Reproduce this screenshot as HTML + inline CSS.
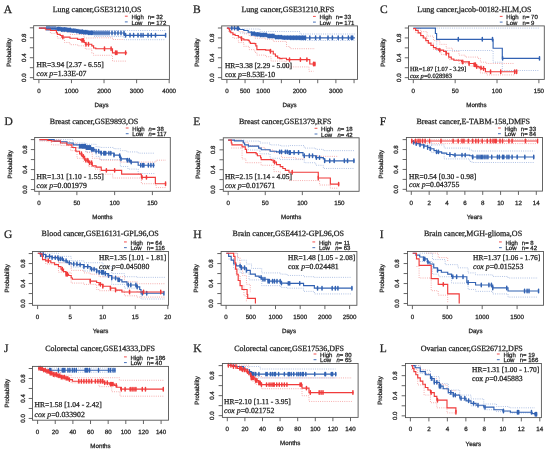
<!DOCTYPE html>
<html><head><meta charset="utf-8"><style>
html,body{margin:0;padding:0;background:#fff;width:550px;height:451px;overflow:hidden}
text{fill:#1e1e1e;stroke:#1e1e1e;stroke-width:0.25px}
svg{display:block;text-rendering:geometricPrecision;will-change:transform}
</style></head><body>
<svg width="550" height="451" viewBox="0 0 550 451">
<defs><filter id="bl" x="0" y="0" width="100%" height="100%"><feGaussianBlur stdDeviation="0.3"/></filter></defs>
<rect width="550" height="451" fill="#fff"/>
<g filter="url(#bl)">
<text x="3.8" y="13.1" font-family="Liberation Serif" font-size="11.5">A</text>
<text x="52.7" y="11.8" font-family="Liberation Serif" font-size="8">Lung cancer,GSE31210,OS</text>
<path d="M124.9 16.2H127.7" stroke="#f03a3a" stroke-width="0.9"/>
<path d="M124.9 21.9H127.7" stroke="#3262b2" stroke-width="0.9"/>
<text x="131.4" y="18.8" font-family="Liberation Sans" font-size="6">High</text>
<text x="147.7" y="18.8" font-family="Liberation Sans" font-size="6"><tspan>n</tspan>= 32</text>
<text x="131.4" y="24.5" font-family="Liberation Sans" font-size="6">Low</text>
<text x="147.7" y="24.5" font-family="Liberation Sans" font-size="6"><tspan>n</tspan>= 172</text>
<path d="M38.9 28.1H56V28.8H62V31.9H70V34.5H84V38H93.6V37.8H112.5V39.5H124" fill="none" stroke="#f29090" stroke-width="0.8" stroke-dasharray="0.9 1.3"/>
<path d="M45.45 30.5H50.4V33.3H57.4V38.2H64.5V42.5H70V44.7H77.6V45.8H85.3V49H91.8V53.4H93.6V55.3H112.5V61.1H126" fill="none" stroke="#f29090" stroke-width="0.8" stroke-dasharray="0.9 1.3"/>
<path d="M94 30.5H165.6" fill="none" stroke="#94acdb" stroke-width="0.8" stroke-dasharray="0.9 1.3"/>
<path d="M94 36.5H124.2V39.7H165.6" fill="none" stroke="#94acdb" stroke-width="0.8" stroke-dasharray="0.9 1.3"/>
<path d="M38.9 28.1H46V28.3H50V28.5H55.8V28.9H61V29.5H66.7V30H71V30.6H75.4V31.1H79V31.7H83V32.2H88V32.7H94V33H124.2V35.3H165.6" fill="none" stroke="#3262b2" stroke-width="1.15"/>
<path d="M47 26.6v3.4M49 26.6v3.4M51 26.8v3.4M53 26.8v3.4M55 26.8v3.4M57 27.2v3.4M58.5 27.2v3.4M60 27.2v3.4M61.5 27.8v3.4M63 27.8v3.4M64.5 27.8v3.4M66 27.8v3.4M67.5 28.3v3.4M69 28.3v3.4M70.5 28.3v3.4M72 28.9v3.4M73.5 28.9v3.4M75 28.9v3.4M76.5 29.4v3.4M78 29.4v3.4M79.5 30v3.4M81 30v3.4M82.5 30v3.4M84 30.5v3.4M85.5 30.5v3.4M87 30.5v3.4M88.5 31v3.4M90 31v3.4M91.5 31v3.4M93 31v3.4M95 31.3v3.4M97 31.3v3.4M99 31.3v3.4M101 31.3v3.4M103 31.3v3.4M105 31.3v3.4M107 31.3v3.4M109 31.3v3.4M112 31.3v3.4M115 31.3v3.4M118 31.3v3.4M121 31.3v3.4M124 31.3v3.4M125.6 33.6v3.4M130 33.6v3.4M133.6 33.6v3.4M138 33.6v3.4M141 33.6v3.4M143.1 33.6v3.4M148 33.6v3.4M151.3 33.6v3.4M155.5 33.6v3.4M165.6 33.6v3.4" stroke="#3262b2" stroke-width="1.5" stroke-linecap="round"/>
<path d="M38.9 28.1H45.45V29.2H50.4V30.5H56.4V32.7H57.4V34.4H60.2V35.5H61.8V37.1H70V38.2H77.6V39.3H80.9V40.4H84.2V42.5H85.3V44.2H91.8V45.8H93.6V48H95.8V48.7H112.5V52.8H127.1" fill="none" stroke="#f03a3a" stroke-width="1.15"/>
<path d="M62.9 35.4v3.4M82 38.7v3.4M83.3 38.7v3.4M86 42.5v3.4M88.5 42.5v3.4M104.5 47v3.4M111.1 47v3.4M115.5 51.1v3.4M116.9 51.1v3.4M125.6 51.1v3.4" stroke="#f03a3a" stroke-width="1.5" stroke-linecap="round"/>
<rect x="33.65" y="25.7" width="135.75" height="53.7" fill="none" stroke="#555" stroke-width="0.9"/>
<path d="M33.65 77.65H29.85M33.65 67.68H29.85M33.65 57.71H29.85M33.65 47.74H29.85M33.65 37.77H29.85M33.65 27.8H29.85M38.9 79.4V83.2M71.47 79.4V83.2M104.04 79.4V83.2M136.61 79.4V83.2M169.18 79.4V83.2" stroke="#555" stroke-width="0.9"/>
<text transform="translate(25.65 77.65) rotate(-90)" text-anchor="middle" font-family="Liberation Sans" font-size="6.1" fill="#222">0.0</text>
<text transform="translate(25.65 57.71) rotate(-90)" text-anchor="middle" font-family="Liberation Sans" font-size="6.1" fill="#222">0.4</text>
<text transform="translate(25.65 37.77) rotate(-90)" text-anchor="middle" font-family="Liberation Sans" font-size="6.1" fill="#222">0.8</text>
<text transform="translate(10.55 52.55) rotate(-90)" text-anchor="middle" font-family="Liberation Sans" font-size="6.1" fill="#222">Probability</text>
<text x="38.9" y="92.8" text-anchor="middle" font-family="Liberation Sans" font-size="6.2" fill="#222">0</text>
<text x="71.47" y="92.8" text-anchor="middle" font-family="Liberation Sans" font-size="6.2" fill="#222">1000</text>
<text x="104.04" y="92.8" text-anchor="middle" font-family="Liberation Sans" font-size="6.2" fill="#222">2000</text>
<text x="136.61" y="92.8" text-anchor="middle" font-family="Liberation Sans" font-size="6.2" fill="#222">3000</text>
<text x="169.18" y="92.8" text-anchor="middle" font-family="Liberation Sans" font-size="6.2" fill="#222">4000</text>
<text x="101.53" y="107.4" text-anchor="middle" font-family="Liberation Sans" font-size="6.2" fill="#222">Days</text>
<text x="36.6" y="66.9" text-anchor="start" font-family="Liberation Serif" font-size="7.5" fill="#222">HR=3.94 [2.37 - 6.55]</text>
<text x="36.6" y="76" text-anchor="start" font-family="Liberation Serif" font-size="7.8" fill="#222"><tspan font-style="italic">cox p</tspan>=1.33E-07</text>
<text x="193" y="13.1" font-family="Liberation Serif" font-size="11.5">B</text>
<text x="241.4" y="11.8" font-family="Liberation Serif" font-size="8">Lung cancer,GSE31210,RFS</text>
<path d="M313 16.4H315.8" stroke="#f03a3a" stroke-width="0.9"/>
<path d="M313 22.1H315.8" stroke="#3262b2" stroke-width="0.9"/>
<text x="319.5" y="19" font-family="Liberation Sans" font-size="6">High</text>
<text x="335.8" y="19" font-family="Liberation Sans" font-size="6"><tspan>n</tspan>= 33</text>
<text x="319.5" y="24.7" font-family="Liberation Sans" font-size="6">Low</text>
<text x="335.8" y="24.7" font-family="Liberation Sans" font-size="6"><tspan>n</tspan>= 171</text>
<path d="M232 28.1H232.91V28.91H238.36V31.63H243.81V33.81H249.26V36H254.72V38.18H265.62V39.27H273.25V41.45H286.5V46.5H290V48.7H315" fill="none" stroke="#f29090" stroke-width="0.8" stroke-dasharray="0.9 1.3"/>
<path d="M228 31H228.54V32.18H232.91V38.18H238.36V42.54H243.81V46.36H249.26V49.63H254.72V52.35H256.9V55.08H265.62V56.72H271.07V61.08H286V66.9H309V71.3H313.5" fill="none" stroke="#f29090" stroke-width="0.8" stroke-dasharray="0.9 1.3"/>
<path d="M240 29H260V31.5H300V34H354.9" fill="none" stroke="#94acdb" stroke-width="0.8" stroke-dasharray="0.9 1.3"/>
<path d="M240 33H260V37H300V40.5H354.9" fill="none" stroke="#94acdb" stroke-width="0.8" stroke-dasharray="0.9 1.3"/>
<path d="M226.9 28.1H235.09V28.36H239.45V29.45H243.81V30.54H248.17V32.18H251.44V33.6H254.72V34.36H260.17V34.91H267.8V36H274.34V37.09H281.98V37.63H290V37.8H354.9" fill="none" stroke="#3262b2" stroke-width="1.15"/>
<path d="M231.81 26.4v3.4M234.54 26.4v3.4M237.27 26.66v3.4M238.36 26.66v3.4M251.5 31.9v3.4M253 31.9v3.4M254.5 31.9v3.4M256 32.66v3.4M257.5 32.66v3.4M259 32.66v3.4M260.5 33.21v3.4M262 33.21v3.4M263.5 33.21v3.4M265 33.21v3.4M266.5 33.21v3.4M268 34.3v3.4M269.5 34.3v3.4M271 34.3v3.4M272.5 34.3v3.4M274 34.3v3.4M275.5 35.39v3.4M277 35.39v3.4M278.5 35.39v3.4M280 35.39v3.4M281.5 35.39v3.4M283 35.93v3.4M284.5 35.93v3.4M286 35.93v3.4M287.5 35.93v3.4M289 35.93v3.4M290.5 36.1v3.4M292 36.1v3.4M293.5 36.1v3.4M295 36.1v3.4M296.5 36.1v3.4M298 36.1v3.4M299.5 36.1v3.4M301 36.1v3.4M302.5 36.1v3.4M304 36.1v3.4M305.5 36.1v3.4M309.8 36.1v3.4M315.6 36.1v3.4M320 36.1v3.4M328 36.1v3.4M332.4 36.1v3.4M338.2 36.1v3.4M342.5 36.1v3.4M348.4 36.1v3.4M351.3 36.1v3.4M352.7 36.1v3.4" stroke="#3262b2" stroke-width="1.5" stroke-linecap="round"/>
<path d="M226.9 28.1H228.54V28.91H229.63V31.09H230.72V32.72H232.91V34.36H235.09V35.45H238.36V37.09H241.08V38.72H243.81V39.81H248.17V40.36H249.26V41.99H250.35V43.41H254.72V43.63H255.81V45.81H256.9V49.63H265.62V50.17H269.98V51.26H273.25V53.99H275.44V56.17H277.62V57.81H279.8V58.68H282V58.2H286.5V59.6H309.8V64H315.6" fill="none" stroke="#f03a3a" stroke-width="1.15"/>
<path d="M241.6 37.02v3.4M270.5 49.56v3.4M289.5 57.9v3.4M300.4 57.9v3.4M306.9 57.9v3.4M313.5 62.3v3.4M314.9 62.3v3.4" stroke="#f03a3a" stroke-width="1.5" stroke-linecap="round"/>
<rect x="221.7" y="25.9" width="135.8" height="53.5" fill="none" stroke="#555" stroke-width="0.9"/>
<path d="M221.7 77.65H217.9M221.7 67.72H217.9M221.7 57.79H217.9M221.7 47.86H217.9M221.7 37.93H217.9M221.7 28H217.9M226.9 79.4V83.2M245.06 79.4V83.2M263.23 79.4V83.2M281.39 79.4V83.2M299.56 79.4V83.2M317.73 79.4V83.2M335.89 79.4V83.2M354.06 79.4V83.2" stroke="#555" stroke-width="0.9"/>
<text transform="translate(213.7 77.65) rotate(-90)" text-anchor="middle" font-family="Liberation Sans" font-size="6.1" fill="#222">0.0</text>
<text transform="translate(213.7 57.79) rotate(-90)" text-anchor="middle" font-family="Liberation Sans" font-size="6.1" fill="#222">0.4</text>
<text transform="translate(213.7 37.93) rotate(-90)" text-anchor="middle" font-family="Liberation Sans" font-size="6.1" fill="#222">0.8</text>
<text transform="translate(198.6 52.65) rotate(-90)" text-anchor="middle" font-family="Liberation Sans" font-size="6.1" fill="#222">Probability</text>
<text x="226.9" y="92.8" text-anchor="middle" font-family="Liberation Sans" font-size="6.2" fill="#222">0</text>
<text x="245.06" y="92.8" text-anchor="middle" font-family="Liberation Sans" font-size="6.2" fill="#222">500</text>
<text x="263.23" y="92.8" text-anchor="middle" font-family="Liberation Sans" font-size="6.2" fill="#222">1000</text>
<text x="299.56" y="92.8" text-anchor="middle" font-family="Liberation Sans" font-size="6.2" fill="#222">2000</text>
<text x="335.89" y="92.8" text-anchor="middle" font-family="Liberation Sans" font-size="6.2" fill="#222">3000</text>
<text x="289.6" y="107.4" text-anchor="middle" font-family="Liberation Sans" font-size="6.2" fill="#222">Days</text>
<text x="224.9" y="67.5" text-anchor="start" font-family="Liberation Serif" font-size="7.5" fill="#222">HR=3.38 [2.29 - 5.00]</text>
<text x="224.9" y="76.9" text-anchor="start" font-family="Liberation Serif" font-size="7.8" fill="#222">cox <tspan font-style="italic">p</tspan>=8.53E-10</text>
<text x="379.9" y="13.3" font-family="Liberation Serif" font-size="11.5">C</text>
<text x="417.3" y="11.8" font-family="Liberation Serif" font-size="8">Lung cancer,jacob-00182-HLM,OS</text>
<path d="M499.8 16.4H502.6" stroke="#f03a3a" stroke-width="0.9"/>
<path d="M499.8 22.1H502.6" stroke="#3262b2" stroke-width="0.9"/>
<text x="506.3" y="19" font-family="Liberation Sans" font-size="6">High</text>
<text x="522.6" y="19" font-family="Liberation Sans" font-size="6"><tspan>n</tspan>= 70</text>
<text x="506.3" y="24.7" font-family="Liberation Sans" font-size="6">Low</text>
<text x="522.6" y="24.7" font-family="Liberation Sans" font-size="6"><tspan>n</tspan>= 9</text>
<path d="M413.3 28.5H420.73V31.64H427.09V36.09H433.46V40.55H439.82V44.36H446.18V48.18H452.55V51.36H458.91V55.18H465.27V57.09H478V58.36H480.36V62.18H486.73V63.46H514.7" fill="none" stroke="#f29090" stroke-width="0.8" stroke-dasharray="0.9 1.3"/>
<path d="M413.3 29.7H415.64V32.91H420.73V36.73H427.09V43.09H433.46V49.46H441.09V54.55H448.73V59.64H458.91V63.46H469.09V66H480.36V73H486.73V74.91H515" fill="none" stroke="#f29090" stroke-width="0.8" stroke-dasharray="0.9 1.3"/>
<path d="M436.6 28.1H538.9" fill="none" stroke="#94acdb" stroke-width="0.8" stroke-dasharray="0.9 1.3"/>
<path d="M436.6 39.3H436.7V50.5H493.1V62.2H502.3V70.5H538.9" fill="none" stroke="#94acdb" stroke-width="0.8" stroke-dasharray="0.9 1.3"/>
<path d="M413.3 28.1H435.4V33.5H436.6V39.3H493.1V48.2H502.3V58.4H539.5" fill="none" stroke="#3262b2" stroke-width="1.15"/>
<path d="M458.3 37.6v3.4M482.3 37.6v3.4M492.5 37.6v3.4M502.6 56.7v3.4M539.5 56.7v3.4" stroke="#3262b2" stroke-width="1.5" stroke-linecap="round"/>
<path d="M413.3 28.5H415.64V30.36H418.18V32.91H420.73V35.45H423.27V38H425.82V40.55H428.36V43.09H430.91V45.38H433.46V47.55H436V48.82H438.55V50.09H443.64V51.36H446.18V53.27H448.73V57.09H451.27V59H453.82V60.27H461.46V61.93H469.09V63.46H474.18V64.73H476.55V66.64H479.09V67.91H481.64V68.55H485.45V71.73H517.3" fill="none" stroke="#f03a3a" stroke-width="1.15"/>
<path d="M439.82 48.39v3.4M446.18 51.57v3.4M462.73 60.23v3.4M469.09 61.76v3.4M474.18 63.03v3.4M475.46 63.03v3.4M476.73 64.94v3.4M481 66.21v3.4M483.55 66.85v3.4M490.55 70.03v3.4M500.73 70.03v3.4M514.73 70.03v3.4M516.64 70.03v3.4" stroke="#f03a3a" stroke-width="1.5" stroke-linecap="round"/>
<rect x="408.55" y="25.9" width="135.75" height="53.5" fill="none" stroke="#555" stroke-width="0.9"/>
<path d="M408.55 77.65H404.75M408.55 67.72H404.75M408.55 57.79H404.75M408.55 47.86H404.75M408.55 37.93H404.75M408.55 28H404.75M413.3 79.4V83.2M455.17 79.4V83.2M497.03 79.4V83.2M538.89 79.4V83.2" stroke="#555" stroke-width="0.9"/>
<text transform="translate(400.55 77.65) rotate(-90)" text-anchor="middle" font-family="Liberation Sans" font-size="6.1" fill="#222">0.0</text>
<text transform="translate(400.55 57.79) rotate(-90)" text-anchor="middle" font-family="Liberation Sans" font-size="6.1" fill="#222">0.4</text>
<text transform="translate(400.55 37.93) rotate(-90)" text-anchor="middle" font-family="Liberation Sans" font-size="6.1" fill="#222">0.8</text>
<text transform="translate(385.45 52.65) rotate(-90)" text-anchor="middle" font-family="Liberation Sans" font-size="6.1" fill="#222">Probability</text>
<text x="413.3" y="92.8" text-anchor="middle" font-family="Liberation Sans" font-size="6.2" fill="#222">0</text>
<text x="455.17" y="92.8" text-anchor="middle" font-family="Liberation Sans" font-size="6.2" fill="#222">50</text>
<text x="497.03" y="92.8" text-anchor="middle" font-family="Liberation Sans" font-size="6.2" fill="#222">100</text>
<text x="538.89" y="92.8" text-anchor="middle" font-family="Liberation Sans" font-size="6.2" fill="#222">150</text>
<text x="476.42" y="107.4" text-anchor="middle" font-family="Liberation Sans" font-size="6.2" fill="#222">Months</text>
<text x="409.9" y="71.1" text-anchor="start" font-family="Liberation Serif" font-size="6.3" fill="#222">HR=1.87 [1.07 - 3.29]</text>
<text x="409.9" y="77.6" text-anchor="start" font-family="Liberation Serif" font-size="6.55" fill="#222"><tspan font-style="italic">cox p</tspan>=0.028983</text>
<text x="4.6" y="125" font-family="Liberation Serif" font-size="11.5">D</text>
<text x="49.8" y="123.8" font-family="Liberation Serif" font-size="8">Breast cancer,GSE9893,OS</text>
<path d="M125.8 128H128.6" stroke="#f03a3a" stroke-width="0.9"/>
<path d="M125.8 133.7H128.6" stroke="#3262b2" stroke-width="0.9"/>
<text x="132.3" y="130.6" font-family="Liberation Sans" font-size="6">High</text>
<text x="148.6" y="130.6" font-family="Liberation Sans" font-size="6"><tspan font-style="italic">n</tspan>= 38</text>
<text x="132.3" y="136.3" font-family="Liberation Sans" font-size="6">Low</text>
<text x="148.6" y="136.3" font-family="Liberation Sans" font-size="6"><tspan font-style="italic">n</tspan>= 117</text>
<path d="M47 139.6H60.46V141.73H70.64V143.64H77V148.09H85.91V152.55H92.27V158.27H100V160.18H120.36V162.09H156V160.18H166" fill="none" stroke="#f29090" stroke-width="0.8" stroke-dasharray="0.9 1.3"/>
<path d="M39.5 141H47.73V141.73H51.55V144.91H60.46V145.55H70.64V150.64H77V158.27H83.36V161.46H88.46V166.55H94.82V169.09H100V174.18H112.73V178H141.36V183.73H156V187.55H166" fill="none" stroke="#f29090" stroke-width="0.8" stroke-dasharray="0.9 1.3"/>
<path d="M52 139.6H73.18V143H85.91V144.27H96.09V146.82H100V147.45H114V148.73H120.36V150.64H126.73V151.91H138.18V153.18H154.7" fill="none" stroke="#94acdb" stroke-width="0.8" stroke-dasharray="0.9 1.3"/>
<path d="M60 141.5H60.46V143.64H73.18V148.09H85.91V151.91H96.09V156.36H100V159.55H120.36V166.55H128V169.09H138.18V173.55H154.7" fill="none" stroke="#94acdb" stroke-width="0.8" stroke-dasharray="0.9 1.3"/>
<path d="M39.5 139.6H54.09V141.09H60.46V141.73H66.82V143H73.18V144.91H79.55V146.18H85.91V147.45H91V149.36H94.82V151.27H101.18V152.55H100V153.18H114V155.09H119.09V155.73H120.36V158.91H126.73V160.18H130.55V162.09H138.18V165.27H154.7" fill="none" stroke="#3262b2" stroke-width="1.15"/>
<path d="M79.55 144.48v3.4M81.07 144.48v3.4M82.35 144.48v3.4M83.36 144.48v3.4M84.38 144.48v3.4M85.4 144.48v3.4M86.42 145.75v3.4M87.44 145.75v3.4M88.46 145.75v3.4M89.47 145.75v3.4M90.49 145.75v3.4M91.51 147.66v3.4M92.53 147.66v3.4M93.55 147.66v3.4M96.09 149.57v3.4M98.64 149.57v3.4M101.18 151.48v3.4M104.36 151.48v3.4M103.82 151.48v3.4M105.73 151.48v3.4M108.91 151.48v3.4M110.82 151.48v3.4M114 153.39v3.4M119.73 154.03v3.4M121 157.21v3.4M127.36 158.48v3.4M129.27 158.48v3.4M131.18 160.39v3.4M140.73 163.57v3.4M142.64 163.57v3.4M143.91 163.57v3.4M148.36 163.57v3.4M150.91 163.57v3.4M153.46 163.57v3.4" stroke="#3262b2" stroke-width="1.5" stroke-linecap="round"/>
<path d="M39.5 139.6H47.73V140.45H51.55V141.09H60.46V143H66.82V144.91H71.91V147.45H75.73V151.27H79.55V153.82H82.09V156.36H84.64V160.18H88.46V162.73H92.27V165.91H96.09V167.18H101.18V168.46H101.27V170.36H121.64V174.18H141.36V177.36H155.36V183.73H166.2" fill="none" stroke="#f03a3a" stroke-width="1.15"/>
<path d="M81.46 152.12v3.4M83.36 154.66v3.4M85.91 158.48v3.4M87.82 158.48v3.4M89.73 161.03v3.4M91.64 161.03v3.4M106.36 168.66v3.4M114.64 168.66v3.4M142 175.66v3.4M146.46 175.66v3.4M165.55 182.03v3.4" stroke="#f03a3a" stroke-width="1.5" stroke-linecap="round"/>
<rect x="34.65" y="137.5" width="135.65" height="53.8" fill="none" stroke="#555" stroke-width="0.9"/>
<path d="M34.65 189.55H30.85M34.65 179.56H30.85M34.65 169.57H30.85M34.65 159.58H30.85M34.65 149.59H30.85M34.65 139.6H30.85M39.1 191.3V195.1M76.87 191.3V195.1M114.63 191.3V195.1M152.4 191.3V195.1" stroke="#555" stroke-width="0.9"/>
<text transform="translate(26.65 189.55) rotate(-90)" text-anchor="middle" font-family="Liberation Sans" font-size="6.1" fill="#222">0.0</text>
<text transform="translate(26.65 169.57) rotate(-90)" text-anchor="middle" font-family="Liberation Sans" font-size="6.1" fill="#222">0.4</text>
<text transform="translate(26.65 149.59) rotate(-90)" text-anchor="middle" font-family="Liberation Sans" font-size="6.1" fill="#222">0.8</text>
<text transform="translate(11.55 164.4) rotate(-90)" text-anchor="middle" font-family="Liberation Sans" font-size="6.1" fill="#222">Probability</text>
<text x="39.1" y="204.7" text-anchor="middle" font-family="Liberation Sans" font-size="6.2" fill="#222">0</text>
<text x="76.87" y="204.7" text-anchor="middle" font-family="Liberation Sans" font-size="6.2" fill="#222">50</text>
<text x="114.63" y="204.7" text-anchor="middle" font-family="Liberation Sans" font-size="6.2" fill="#222">100</text>
<text x="152.4" y="204.7" text-anchor="middle" font-family="Liberation Sans" font-size="6.2" fill="#222">150</text>
<text x="102.48" y="219.3" text-anchor="middle" font-family="Liberation Sans" font-size="6.2" fill="#222">Months</text>
<text x="36.5" y="178.9" text-anchor="start" font-family="Liberation Serif" font-size="7.5" fill="#222">HR=1.31 [1.10 - 1.55]</text>
<text x="36.5" y="187.6" text-anchor="start" font-family="Liberation Serif" font-size="7.8" fill="#222"><tspan font-style="italic">cox p</tspan>=0.001979</text>
<text x="193.2" y="125" font-family="Liberation Serif" font-size="11.5">E</text>
<text x="239" y="123.8" font-family="Liberation Serif" font-size="8">Breast cancer,GSE1379,RFS</text>
<path d="M314.6 128.3H317.4" stroke="#f03a3a" stroke-width="0.9"/>
<path d="M314.6 134H317.4" stroke="#3262b2" stroke-width="0.9"/>
<text x="321.1" y="130.9" font-family="Liberation Sans" font-size="6">High</text>
<text x="337.4" y="130.9" font-family="Liberation Sans" font-size="6"><tspan font-style="italic">n</tspan>= 18</text>
<text x="321.1" y="136.6" font-family="Liberation Sans" font-size="6">Low</text>
<text x="337.4" y="136.6" font-family="Liberation Sans" font-size="6"><tspan font-style="italic">n</tspan>= 42</text>
<path d="M231.3 140.1H242.09V142.36H248.46V145.55H258.64V147.45H265V150H273.91V152.55H281.55V157.64H295.36V158.91H304.27V155.73H318.27V156.36H338.5" fill="none" stroke="#f29090" stroke-width="0.8" stroke-dasharray="0.9 1.3"/>
<path d="M231.3 148H242.09V158.91H245.91V162.73H261.18V165.27H273.91V171.64H280.27V174.18H289V180.55H319.55V185H330.36V188.18H338.5" fill="none" stroke="#f29090" stroke-width="0.8" stroke-dasharray="0.9 1.3"/>
<path d="M234.5 140.1H244.64V141.09H259.91V143H270.09V144.91H280.27V145.93H289V145.55H304.27V148.09H315.73V149.36H323.36V150.64H354" fill="none" stroke="#94acdb" stroke-width="0.8" stroke-dasharray="0.9 1.3"/>
<path d="M243 146H248.46V150H259.91V153.82H270.09V158.27H280.27V159.55H289V159.55H304.27V162.73H315.73V165.27H323.36V168.46H354" fill="none" stroke="#94acdb" stroke-width="0.8" stroke-dasharray="0.9 1.3"/>
<path d="M228.1 140.1H234.45V140.84H243.36V143H244.64V144.91H248.46V146.18H258.64V148.09H261.18V149.75H270.09V151.27H276.46V151.91H289V152.55H303V155.73H315.73V157.64H323.36V158.91H324.64V160.82H354.5" fill="none" stroke="#3262b2" stroke-width="1.15"/>
<path d="M279.64 150.21v3.4M281.55 150.21v3.4M285.36 150.21v3.4M287.27 150.21v3.4M289.18 150.85v3.4M290.27 150.85v3.4M294.09 150.85v3.4M298.55 150.85v3.4M304.27 154.03v3.4M309.36 154.03v3.4M312.55 154.03v3.4M316.36 155.94v3.4M319.55 155.94v3.4M324.64 159.12v3.4M329.73 159.12v3.4M334.18 159.12v3.4M344.36 159.12v3.4M347.55 159.12v3.4M353.91 159.12v3.4" stroke="#3262b2" stroke-width="1.5" stroke-linecap="round"/>
<path d="M228.1 140.1H231.27V143H231.91V144.91H242.09V146.82H245.27V149.36H246.55V152.55H256.09V153.82H257.36V155.73H260.55V157.64H261.18V159.55H271.36V160.18H273.27V162.09H276.46V164.64H280.27V166.55H282.82V168.46H285.36V170.36H289V172.27H318.27V178H330.36V184.11H339.3" fill="none" stroke="#f03a3a" stroke-width="1.15"/>
<path d="M274.55 160.39v3.4M292.18 170.57v3.4M318.27 176.3v3.4M338.64 182.41v3.4" stroke="#f03a3a" stroke-width="1.5" stroke-linecap="round"/>
<rect x="223.3" y="137.8" width="135.8" height="53.5" fill="none" stroke="#555" stroke-width="0.9"/>
<path d="M223.3 189.55H219.5M223.3 179.62H219.5M223.3 169.69H219.5M223.3 159.76H219.5M223.3 149.83H219.5M223.3 139.9H219.5M228.2 191.3V195.1M265.26 191.3V195.1M302.33 191.3V195.1M339.39 191.3V195.1" stroke="#555" stroke-width="0.9"/>
<text transform="translate(215.3 189.55) rotate(-90)" text-anchor="middle" font-family="Liberation Sans" font-size="6.1" fill="#222">0.0</text>
<text transform="translate(215.3 169.69) rotate(-90)" text-anchor="middle" font-family="Liberation Sans" font-size="6.1" fill="#222">0.4</text>
<text transform="translate(215.3 149.83) rotate(-90)" text-anchor="middle" font-family="Liberation Sans" font-size="6.1" fill="#222">0.8</text>
<text transform="translate(200.2 164.55) rotate(-90)" text-anchor="middle" font-family="Liberation Sans" font-size="6.1" fill="#222">Probability</text>
<text x="228.2" y="204.7" text-anchor="middle" font-family="Liberation Sans" font-size="6.2" fill="#222">0</text>
<text x="265.26" y="204.7" text-anchor="middle" font-family="Liberation Sans" font-size="6.2" fill="#222">50</text>
<text x="302.33" y="204.7" text-anchor="middle" font-family="Liberation Sans" font-size="6.2" fill="#222">100</text>
<text x="339.39" y="204.7" text-anchor="middle" font-family="Liberation Sans" font-size="6.2" fill="#222">150</text>
<text x="291.2" y="219.3" text-anchor="middle" font-family="Liberation Sans" font-size="6.2" fill="#222">Months</text>
<text x="224.9" y="178.9" text-anchor="start" font-family="Liberation Serif" font-size="7.5" fill="#222">HR=2.15 [1.14 - 4.05]</text>
<text x="224.9" y="187.6" text-anchor="start" font-family="Liberation Serif" font-size="7.8" fill="#222"><tspan font-style="italic">cox p</tspan>=0.017671</text>
<text x="379.8" y="125" font-family="Liberation Serif" font-size="11.5">F</text>
<text x="416.5" y="123.8" font-family="Liberation Serif" font-size="8">Breast cancer,E-TABM-158,DMFS</text>
<path d="M498 128H500.8" stroke="#f03a3a" stroke-width="0.9"/>
<path d="M498 133.7H500.8" stroke="#3262b2" stroke-width="0.9"/>
<text x="504.5" y="130.6" font-family="Liberation Sans" font-size="6">High</text>
<text x="520.8" y="130.6" font-family="Liberation Sans" font-size="6"><tspan>n</tspan>= 33</text>
<text x="504.5" y="136.3" font-family="Liberation Sans" font-size="6">Low</text>
<text x="520.8" y="136.3" font-family="Liberation Sans" font-size="6"><tspan>n</tspan>= 84</text>
<path d="M411.7 139.6H537.5" fill="none" stroke="#f29090" stroke-width="0.8" stroke-dasharray="0.9 1.3"/>
<path d="M411.7 143.6H537.5" fill="none" stroke="#f29090" stroke-width="0.8" stroke-dasharray="0.9 1.3"/>
<path d="M420 142H431.46V144.91H444.18V148.09H469.64V150H472V151H534.4" fill="none" stroke="#94acdb" stroke-width="0.8" stroke-dasharray="0.9 1.3"/>
<path d="M416 145H431.46V152.55H444.18V158.91H469.64V161.46H472V162.5H534.4" fill="none" stroke="#94acdb" stroke-width="0.8" stroke-dasharray="0.9 1.3"/>
<path d="M411.7 141.3H413.64V142.36H416.18V143.64H420V144.91H423.82V146.18H427.64V147.45H430.18V148.73H434V150.64H436.55V151.91H441.64V153.18H446.73V154.45H453.09V155.09H469.64V155.73H472.18V157H534.4" fill="none" stroke="#3262b2" stroke-width="1.15"/>
<path d="M413.64 140.66v3.4M416.18 141.94v3.4M420 143.21v3.4M423.82 144.48v3.4M427.64 145.75v3.4M430.18 147.03v3.4M436.55 150.21v3.4M438.46 150.21v3.4M449.91 152.75v3.4M455 153.39v3.4M462 153.39v3.4M465.18 153.39v3.4M472.82 155.3v3.4M472.64 155.3v3.4M477.09 155.3v3.4M479 155.3v3.4M480.91 155.3v3.4M482.18 155.3v3.4M484.09 155.3v3.4M486 155.3v3.4M487.91 155.3v3.4M491.73 155.3v3.4M497.46 155.3v3.4M499.36 155.3v3.4M502.55 155.3v3.4M503.82 155.3v3.4M507 155.3v3.4M508.91 155.3v3.4M512.09 155.3v3.4M517.18 155.3v3.4M524.82 155.3v3.4M533.73 155.3v3.4" stroke="#3262b2" stroke-width="1.5" stroke-linecap="round"/>
<path d="M411.7 141H537.5" fill="none" stroke="#f03a3a" stroke-width="1.15"/>
<path d="M411.73 139.3v3.4M415.55 139.3v3.4M418.09 139.3v3.4M420 139.3v3.4M422.55 139.3v3.4M425.09 139.3v3.4M429.55 139.3v3.4M441 139.3v3.4M453.09 139.3v3.4M458.18 139.3v3.4M462 139.3v3.4M463.91 139.3v3.4M468.36 139.3v3.4M472.64 139.3v3.4M475.82 139.3v3.4M478.36 139.3v3.4M482.18 139.3v3.4M487.27 139.3v3.4M490.45 139.3v3.4M493 139.3v3.4M494.91 139.3v3.4M496.18 139.3v3.4M500 139.3v3.4M502.55 139.3v3.4M508.91 139.3v3.4M512.09 139.3v3.4M525.46 139.3v3.4M537.55 139.3v3.4" stroke="#f03a3a" stroke-width="1.5" stroke-linecap="round"/>
<rect x="406.4" y="137.5" width="136.1" height="53.6" fill="none" stroke="#555" stroke-width="0.9"/>
<path d="M406.4 189.35H402.6M406.4 179.4H402.6M406.4 169.45H402.6M406.4 159.5H402.6M406.4 149.55H402.6M406.4 139.6H402.6M411.3 191.1V194.9M429.16 191.1V194.9M447.02 191.1V194.9M464.87 191.1V194.9M482.73 191.1V194.9M500.59 191.1V194.9M518.45 191.1V194.9M536.31 191.1V194.9" stroke="#555" stroke-width="0.9"/>
<text transform="translate(398.4 189.35) rotate(-90)" text-anchor="middle" font-family="Liberation Sans" font-size="6.1" fill="#222">0.0</text>
<text transform="translate(398.4 169.45) rotate(-90)" text-anchor="middle" font-family="Liberation Sans" font-size="6.1" fill="#222">0.4</text>
<text transform="translate(398.4 149.55) rotate(-90)" text-anchor="middle" font-family="Liberation Sans" font-size="6.1" fill="#222">0.8</text>
<text transform="translate(383.3 164.3) rotate(-90)" text-anchor="middle" font-family="Liberation Sans" font-size="6.1" fill="#222">Probability</text>
<text x="411.3" y="204.5" text-anchor="middle" font-family="Liberation Sans" font-size="6.2" fill="#222">0</text>
<text x="429.16" y="204.5" text-anchor="middle" font-family="Liberation Sans" font-size="6.2" fill="#222">2</text>
<text x="447.02" y="204.5" text-anchor="middle" font-family="Liberation Sans" font-size="6.2" fill="#222">4</text>
<text x="464.87" y="204.5" text-anchor="middle" font-family="Liberation Sans" font-size="6.2" fill="#222">6</text>
<text x="482.73" y="204.5" text-anchor="middle" font-family="Liberation Sans" font-size="6.2" fill="#222">8</text>
<text x="500.59" y="204.5" text-anchor="middle" font-family="Liberation Sans" font-size="6.2" fill="#222">10</text>
<text x="518.45" y="204.5" text-anchor="middle" font-family="Liberation Sans" font-size="6.2" fill="#222">12</text>
<text x="536.31" y="204.5" text-anchor="middle" font-family="Liberation Sans" font-size="6.2" fill="#222">14</text>
<text x="474.45" y="219.1" text-anchor="middle" font-family="Liberation Sans" font-size="6.2" fill="#222">Years</text>
<text x="409" y="178.9" text-anchor="start" font-family="Liberation Serif" font-size="7.5" fill="#222">HR=0.54 [0.30 - 0.98]</text>
<text x="409" y="187.3" text-anchor="start" font-family="Liberation Serif" font-size="7.8" fill="#222"><tspan font-style="italic">cox p</tspan>=0.043755</text>
<text x="3.9" y="238.2" font-family="Liberation Serif" font-size="11.5">G</text>
<text x="41.6" y="236" font-family="Liberation Serif" font-size="8">Blood cancer,GSE16131-GPL96,OS</text>
<path d="M124 241.95H126.8" stroke="#f03a3a" stroke-width="0.9"/>
<path d="M124 247.65H126.8" stroke="#3262b2" stroke-width="0.9"/>
<text x="130.5" y="244.55" font-family="Liberation Sans" font-size="6">High</text>
<text x="146.8" y="244.55" font-family="Liberation Sans" font-size="6"><tspan>n</tspan>= 64</text>
<text x="130.5" y="250.25" font-family="Liberation Sans" font-size="6">Low</text>
<text x="146.8" y="250.25" font-family="Liberation Sans" font-size="6"><tspan>n</tspan>= 116</text>
<path d="M40 253.2H45.73V257H58.46V262.73H71.18V270.36H83.91V272.91H90.27V274.18H99V276.73H124.46V281.82H137.18V283.73H165" fill="none" stroke="#f29090" stroke-width="0.8" stroke-dasharray="0.9 1.3"/>
<path d="M42 258H45.73V264H58.46V272.27H71.18V283.09H83.91V284.36H96.64V289.46H99V290.73H124.46V295.82H137.18V297.09H165" fill="none" stroke="#f29090" stroke-width="0.8" stroke-dasharray="0.9 1.3"/>
<path d="M45 253.2H58.46V256.36H71.18V260.82H83.91V262.73H103V266.55H111.73V273.55H124.46V276.73H137.18V277.36H165" fill="none" stroke="#94acdb" stroke-width="0.8" stroke-dasharray="0.9 1.3"/>
<path d="M45 258H58.46V262.73H71.18V267.18H83.91V271H103V276.73H111.73V284.36H124.46V288.18H137.18V292H141V299H165" fill="none" stroke="#94acdb" stroke-width="0.8" stroke-dasharray="0.9 1.3"/>
<path d="M37.8 253.2H40.64V254.45H45.73V256.36H52.09V257.64H58.46V258.91H63.55V260.82H67.36V262.73H71.18V264H77.55V264.64H83.91V266.55H90.27V269.09H96.64V271H99V272.27H104.09V273.55H107.91V275.46H111.73V278H118.09V279.91H121.91V281.82H127V285H137.18V286.91H139.73V289.46H141V293.27H163.9" fill="none" stroke="#3262b2" stroke-width="1.15"/>
<path d="M40.64 252.75v3.4M43.18 252.75v3.4M45.73 254.66v3.4M49.55 254.66v3.4M52.09 255.94v3.4M55.27 255.94v3.4M57.82 255.94v3.4M58.46 257.21v3.4M60.36 257.21v3.4M62.27 257.21v3.4M66.09 259.12v3.4M69.27 261.03v3.4M73.73 262.3v3.4M76.91 262.3v3.4M80.09 262.94v3.4M83.91 264.85v3.4M87.73 264.85v3.4M91.55 267.39v3.4M94.09 267.39v3.4M96.64 269.3v3.4M99.18 270.57v3.4M102.36 270.57v3.4M101.55 270.57v3.4M103.45 270.57v3.4M105.36 271.85v3.4M108.55 273.76v3.4M111.73 276.3v3.4M115.55 276.3v3.4M118.09 278.21v3.4M119.36 278.21v3.4M128.27 283.3v3.4M130.82 283.3v3.4M135.91 283.3v3.4M137.18 285.21v3.4M142.27 291.57v3.4M146.73 291.57v3.4M163.91 291.57v3.4" stroke="#3262b2" stroke-width="1.5" stroke-linecap="round"/>
<path d="M37.8 253.2H40V253.82H41.91V256.36H42.55V259.55H45.73V260.82H50.82V262.73H54.64V264.64H58.46V266.55H61V269.09H63.55V271.64H66.09V274.18H68.64V275.46H71.18V278H72.46V279.27H90.27V281.18H96.64V282.46H99.18V285H99V284.36H102.82V286.27H110.45V288.18H115.55V290.09H121.91V292H163.9" fill="none" stroke="#f03a3a" stroke-width="1.15"/>
<path d="M48.27 259.12v3.4M62.27 267.39v3.4M66.09 272.48v3.4M67.36 272.48v3.4M90.27 279.48v3.4M100.46 282.66v3.4M102.82 284.57v3.4M110.45 286.48v3.4M115.55 288.39v3.4M129.55 290.3v3.4M143.55 290.3v3.4M160.73 290.3v3.4" stroke="#f03a3a" stroke-width="1.5" stroke-linecap="round"/>
<rect x="32.5" y="251.45" width="136" height="53.85" fill="none" stroke="#555" stroke-width="0.9"/>
<path d="M32.5 303.55H28.7M32.5 293.55H28.7M32.5 283.55H28.7M32.5 273.55H28.7M32.5 263.55H28.7M32.5 253.55H28.7M37.6 305.3V309.1M70.15 305.3V309.1M102.7 305.3V309.1M135.25 305.3V309.1M167.8 305.3V309.1" stroke="#555" stroke-width="0.9"/>
<text transform="translate(24.5 303.55) rotate(-90)" text-anchor="middle" font-family="Liberation Sans" font-size="6.1" fill="#222">0.0</text>
<text transform="translate(24.5 283.55) rotate(-90)" text-anchor="middle" font-family="Liberation Sans" font-size="6.1" fill="#222">0.4</text>
<text transform="translate(24.5 263.55) rotate(-90)" text-anchor="middle" font-family="Liberation Sans" font-size="6.1" fill="#222">0.8</text>
<text transform="translate(9.4 278.38) rotate(-90)" text-anchor="middle" font-family="Liberation Sans" font-size="6.1" fill="#222">Probability</text>
<text x="37.6" y="318.7" text-anchor="middle" font-family="Liberation Sans" font-size="6.2" fill="#222">0</text>
<text x="70.15" y="318.7" text-anchor="middle" font-family="Liberation Sans" font-size="6.2" fill="#222">5</text>
<text x="102.7" y="318.7" text-anchor="middle" font-family="Liberation Sans" font-size="6.2" fill="#222">10</text>
<text x="135.25" y="318.7" text-anchor="middle" font-family="Liberation Sans" font-size="6.2" fill="#222">15</text>
<text x="167.8" y="318.7" text-anchor="middle" font-family="Liberation Sans" font-size="6.2" fill="#222">20</text>
<text x="100.5" y="333.3" text-anchor="middle" font-family="Liberation Sans" font-size="6.2" fill="#222">Years</text>
<text x="99" y="260.2" text-anchor="start" font-family="Liberation Serif" font-size="7.5" fill="#222">HR=1.35 [1.01 - 1.81]</text>
<text x="99" y="268.9" text-anchor="start" font-family="Liberation Serif" font-size="7.8" fill="#222"><tspan font-style="italic">cox p</tspan>=0.045080</text>
<text x="193.2" y="238.2" font-family="Liberation Serif" font-size="11.5">H</text>
<text x="232.6" y="236" font-family="Liberation Serif" font-size="8">Brain cancer,GSE4412-GPL96,OS</text>
<path d="M312.4 241.95H315.2" stroke="#f03a3a" stroke-width="0.9"/>
<path d="M312.4 247.65H315.2" stroke="#3262b2" stroke-width="0.9"/>
<text x="318.9" y="244.55" font-family="Liberation Sans" font-size="6">High</text>
<text x="335.2" y="244.55" font-family="Liberation Sans" font-size="6"><tspan font-style="italic">n</tspan>= 11</text>
<text x="318.9" y="250.25" font-family="Liberation Sans" font-size="6">Low</text>
<text x="335.2" y="250.25" font-family="Liberation Sans" font-size="6"><tspan font-style="italic">n</tspan>= 63</text>
<path d="M233.7 253.2H237.55V257.64H240.09V266.55H242.64V275.46H246.46V284.36H250.27V292H250" fill="none" stroke="#f29090" stroke-width="0.8" stroke-dasharray="0.9 1.3"/>
<path d="M230 253.2H233.73V262.73H236.27V275.46H240.09V285.64H243.91V295.82H246.46V300.91H245" fill="none" stroke="#f29090" stroke-width="0.8" stroke-dasharray="0.9 1.3"/>
<path d="M228.6 253.2H237.55V260.18H246.46V264H251.55V268.45H261.73V272.91H280.82V274.18H287V275.46H303.55V276.73H314.36V277.36H351.5" fill="none" stroke="#94acdb" stroke-width="0.8" stroke-dasharray="0.9 1.3"/>
<path d="M228.6 259H233.73V269.09H240.09V272.91H249V279.91H261.73V285.64H280.82V287.55H287V288.18H303.55V291.36H314.36V293.91H351.5" fill="none" stroke="#94acdb" stroke-width="0.8" stroke-dasharray="0.9 1.3"/>
<path d="M226.3 253.2H228.64V256.36H231.18V260.18H233.73V264H236.27V265.91H241.36V267.82H246.46V270.36H250.27V274.18H255.36V276.09H259.18V277.36H261.73V279.27H268.09V281.18H280.82V283.09H287V283.35H303.55V285.64H314.36V288.18H352.5" fill="none" stroke="#3262b2" stroke-width="1.15"/>
<path d="M240.09 264.21v3.4M241.36 266.12v3.4M244.55 266.12v3.4M246.46 268.66v3.4M261.09 275.66v3.4M263 277.57v3.4M264.91 277.57v3.4M268.09 279.48v3.4M269.36 279.48v3.4M272.55 279.48v3.4M274.46 279.48v3.4M277 279.48v3.4M280.18 279.48v3.4M281.46 281.39v3.4M289.73 281.65v3.4M288.27 281.65v3.4M299.73 281.65v3.4M317.55 286.48v3.4M322 286.48v3.4M332.18 286.48v3.4M335.36 286.48v3.4M337.91 286.48v3.4M351.91 286.48v3.4" stroke="#3262b2" stroke-width="1.5" stroke-linecap="round"/>
<path d="M226.3 253.2H233.7V256.4H235V262.7H235.6V269.1H236.9V274.2H238.2V280.5H240.1V285.6H242V289.5H247.1V294.5H247.7V298.4H255.4V303.5H255.4" fill="none" stroke="#f03a3a" stroke-width="1.15"/>
<rect x="221.1" y="251.45" width="135.8" height="53.85" fill="none" stroke="#555" stroke-width="0.9"/>
<path d="M221.1 303.55H217.3M221.1 293.55H217.3M221.1 283.55H217.3M221.1 273.55H217.3M221.1 263.55H217.3M221.1 253.55H217.3M226.1 305.3V309.1M250.8 305.3V309.1M275.5 305.3V309.1M300.2 305.3V309.1M324.9 305.3V309.1M349.6 305.3V309.1" stroke="#555" stroke-width="0.9"/>
<text transform="translate(213.1 303.55) rotate(-90)" text-anchor="middle" font-family="Liberation Sans" font-size="6.1" fill="#222">0.0</text>
<text transform="translate(213.1 283.55) rotate(-90)" text-anchor="middle" font-family="Liberation Sans" font-size="6.1" fill="#222">0.4</text>
<text transform="translate(213.1 263.55) rotate(-90)" text-anchor="middle" font-family="Liberation Sans" font-size="6.1" fill="#222">0.8</text>
<text transform="translate(198 278.38) rotate(-90)" text-anchor="middle" font-family="Liberation Sans" font-size="6.1" fill="#222">Probability</text>
<text x="226.1" y="318.7" text-anchor="middle" font-family="Liberation Sans" font-size="6.2" fill="#222">0</text>
<text x="250.8" y="318.7" text-anchor="middle" font-family="Liberation Sans" font-size="6.2" fill="#222">500</text>
<text x="275.5" y="318.7" text-anchor="middle" font-family="Liberation Sans" font-size="6.2" fill="#222">1000</text>
<text x="300.2" y="318.7" text-anchor="middle" font-family="Liberation Sans" font-size="6.2" fill="#222">1500</text>
<text x="324.9" y="318.7" text-anchor="middle" font-family="Liberation Sans" font-size="6.2" fill="#222">2000</text>
<text x="349.6" y="318.7" text-anchor="middle" font-family="Liberation Sans" font-size="6.2" fill="#222">2500</text>
<text x="289" y="333.3" text-anchor="middle" font-family="Liberation Sans" font-size="6.2" fill="#222">Days</text>
<text x="288" y="260.2" text-anchor="start" font-family="Liberation Serif" font-size="7.5" fill="#222">HR=1.48 [1.05 - 2.08]</text>
<text x="288" y="268.9" text-anchor="start" font-family="Liberation Serif" font-size="7.8" fill="#222">cox <tspan font-style="italic">p</tspan>=0.024481</text>
<text x="379.8" y="238.2" font-family="Liberation Serif" font-size="11.5">I</text>
<text x="424" y="236" font-family="Liberation Serif" font-size="8">Brain cancer,MGH-glioma,OS</text>
<path d="M499 241.95H501.8" stroke="#f03a3a" stroke-width="0.9"/>
<path d="M499 247.65H501.8" stroke="#3262b2" stroke-width="0.9"/>
<text x="505.5" y="244.55" font-family="Liberation Sans" font-size="6">High</text>
<text x="521.8" y="244.55" font-family="Liberation Sans" font-size="6"><tspan>n</tspan>= 8</text>
<text x="505.5" y="250.25" font-family="Liberation Sans" font-size="6">Low</text>
<text x="521.8" y="250.25" font-family="Liberation Sans" font-size="6"><tspan>n</tspan>= 42</text>
<path d="M426 253.2H438.2V257.6H447.7V262H447.7" fill="none" stroke="#f29090" stroke-width="0.8" stroke-dasharray="0.9 1.3"/>
<path d="M416.5 266.5H419.1V278H431.2V290.7H438.2V295.2H447.7V303.5H447.7" fill="none" stroke="#f29090" stroke-width="0.8" stroke-dasharray="0.9 1.3"/>
<path d="M419.7 253.2H432.46V259.55H445.18V264.64H457.91V267.82H468.09V272.91H475.55V274.82H492.73V276.47H508V278H538" fill="none" stroke="#94acdb" stroke-width="0.8" stroke-dasharray="0.9 1.3"/>
<path d="M419.7 261.5H432.46V274.18H438.82V276.73H451.55V283.09H468.09V289.46H475.55V291.36H492.73V293.91H508V297.09H538" fill="none" stroke="#94acdb" stroke-width="0.8" stroke-dasharray="0.9 1.3"/>
<path d="M412.7 253.2H415.91V255.09H419.73V257H423.55V258.91H427.36V262.09H429.91V264H433.73V267.82H437.55V270.36H441.36V272.27H447.73V274.18H451.55V276.73H466.82V282.46H475.55V285H492.73V287.93H508V290.98H538.5" fill="none" stroke="#3262b2" stroke-width="1.15"/>
<path d="M423.55 257.21v3.4M424.82 257.21v3.4M428 260.39v3.4M437.55 268.66v3.4M452.82 275.03v3.4M456.64 275.03v3.4M463 275.03v3.4M468.09 280.76v3.4M481.27 283.3v3.4M488.91 283.3v3.4M491.45 283.3v3.4M492.73 286.23v3.4M506.73 286.23v3.4M524.55 289.28v3.4M527.09 289.28v3.4M529 289.28v3.4M538.55 289.28v3.4" stroke="#3262b2" stroke-width="1.5" stroke-linecap="round"/>
<path d="M412.7 253.2H416.5V258.9H419.1V265.3H431.2V278.6H438.2V284.4H447.7V293.9H459.2V303.5H459.2" fill="none" stroke="#f03a3a" stroke-width="1.15"/>
<path d="M443.3 282.7v3.4" stroke="#f03a3a" stroke-width="1.5" stroke-linecap="round"/>
<rect x="407.45" y="251.45" width="136.05" height="53.85" fill="none" stroke="#555" stroke-width="0.9"/>
<path d="M407.45 303.55H403.65M407.45 293.55H403.65M407.45 283.55H403.65M407.45 273.55H403.65M407.45 263.55H403.65M407.45 253.55H403.65M412.4 305.3V309.1M447.3 305.3V309.1M482.2 305.3V309.1M517.1 305.3V309.1" stroke="#555" stroke-width="0.9"/>
<text transform="translate(399.45 303.55) rotate(-90)" text-anchor="middle" font-family="Liberation Sans" font-size="6.1" fill="#222">0.0</text>
<text transform="translate(399.45 283.55) rotate(-90)" text-anchor="middle" font-family="Liberation Sans" font-size="6.1" fill="#222">0.4</text>
<text transform="translate(399.45 263.55) rotate(-90)" text-anchor="middle" font-family="Liberation Sans" font-size="6.1" fill="#222">0.8</text>
<text transform="translate(384.35 278.38) rotate(-90)" text-anchor="middle" font-family="Liberation Sans" font-size="6.1" fill="#222">Probability</text>
<text x="412.4" y="318.7" text-anchor="middle" font-family="Liberation Sans" font-size="6.2" fill="#222">0</text>
<text x="447.3" y="318.7" text-anchor="middle" font-family="Liberation Sans" font-size="6.2" fill="#222">500</text>
<text x="482.2" y="318.7" text-anchor="middle" font-family="Liberation Sans" font-size="6.2" fill="#222">1000</text>
<text x="517.1" y="318.7" text-anchor="middle" font-family="Liberation Sans" font-size="6.2" fill="#222">1500</text>
<text x="475.48" y="333.3" text-anchor="middle" font-family="Liberation Sans" font-size="6.2" fill="#222">Days</text>
<text x="473" y="260.2" text-anchor="start" font-family="Liberation Serif" font-size="7.5" fill="#222">HR=1.37 [1.06 - 1.76]</text>
<text x="473" y="268.9" text-anchor="start" font-family="Liberation Serif" font-size="7.8" fill="#222"><tspan font-style="italic">cox p</tspan>=0.015253</text>
<text x="3.9" y="351.5" font-family="Liberation Serif" font-size="11.5">J</text>
<text x="45.2" y="351.3" font-family="Liberation Serif" font-size="8">Colorectal cancer,GSE14333,DFS</text>
<path d="M124 356.9H126.8" stroke="#f03a3a" stroke-width="0.9"/>
<path d="M124 362.6H126.8" stroke="#3262b2" stroke-width="0.9"/>
<text x="130.5" y="359.5" font-family="Liberation Sans" font-size="6">High</text>
<text x="146.8" y="359.5" font-family="Liberation Sans" font-size="6"><tspan>n</tspan>= 186</text>
<text x="130.5" y="365.2" font-family="Liberation Sans" font-size="6">Low</text>
<text x="146.8" y="365.2" font-family="Liberation Sans" font-size="6"><tspan>n</tspan>= 40</text>
<path d="M38.1 368.2H45.73V370.09H53.36V372.64H61V375.18H71.18V377.73H99V377.73H119.36V380.27H164" fill="none" stroke="#f29090" stroke-width="0.8" stroke-dasharray="0.9 1.3"/>
<path d="M40 369H45.73V373.27H53.36V377.09H61V379.64H71.18V382.82H99V386.64H111.73V391.73H120V396.18H164" fill="none" stroke="#f29090" stroke-width="0.8" stroke-dasharray="0.9 1.3"/>
<path d="M45 368.2H115.5" fill="none" stroke="#94acdb" stroke-width="0.8" stroke-dasharray="0.9 1.3"/>
<path d="M45 372.2H115.5" fill="none" stroke="#94acdb" stroke-width="0.8" stroke-dasharray="0.9 1.3"/>
<path d="M38.1 368.2H41V370.2H115.5" fill="none" stroke="#3262b2" stroke-width="1.15"/>
<path d="M49.55 368.5v3.4M50.82 368.5v3.4M58.46 368.5v3.4M62.27 368.5v3.4M63.55 368.5v3.4M64.82 368.5v3.4M68 368.5v3.4M69.91 368.5v3.4M72.46 368.5v3.4M74.36 368.5v3.4M76.27 368.5v3.4M85.18 368.5v3.4M86.46 368.5v3.4M87.73 368.5v3.4M89.64 368.5v3.4M98.55 368.5v3.4M108.55 368.5v3.4M110.45 368.5v3.4M113 368.5v3.4M114.91 368.5v3.4" stroke="#3262b2" stroke-width="1.5" stroke-linecap="round"/>
<path d="M38.1 368.2H40.64V368.82H43.18V370.09H45.73V371.36H49.55V373.27H53.36V374.55H57.18V375.82H61V377.09H64.82V378.36H68.64V379.64H72.46V381.29H104.09V382.82H109.18V384.09H114.27V385.36H116.82V387.27H120.64V389.18H163.9" fill="none" stroke="#f03a3a" stroke-width="1.15"/>
<path d="M39 366.5v3.4M40.6 366.5v3.4M42.2 367.12v3.4M43.8 368.39v3.4M45.4 368.39v3.4M47 369.66v3.4M48.6 369.66v3.4M50.2 371.57v3.4M51.8 371.57v3.4M53.4 372.85v3.4M55 372.85v3.4M56.6 372.85v3.4M58.2 374.12v3.4M59.8 374.12v3.4M61.4 375.39v3.4M63 375.39v3.4M64.6 375.39v3.4M66.2 376.66v3.4M67.8 376.66v3.4M69.4 377.94v3.4M78.82 379.59v3.4M81.36 379.59v3.4M83.91 379.59v3.4M86.46 379.59v3.4M89 379.59v3.4M91.55 379.59v3.4M95.36 379.59v3.4M97.91 379.59v3.4M100.46 379.59v3.4M102.36 379.59v3.4M100.27 379.59v3.4M102.82 379.59v3.4M104.73 381.12v3.4M107.27 381.12v3.4M110.45 382.39v3.4M111.73 382.39v3.4M113 382.39v3.4M116.18 383.66v3.4M121.27 387.48v3.4M125.09 387.48v3.4M130.18 387.48v3.4M132.09 387.48v3.4M134 387.48v3.4M135.91 387.48v3.4M142.27 387.48v3.4M145.46 387.48v3.4M163.27 387.48v3.4" stroke="#f03a3a" stroke-width="1.5" stroke-linecap="round"/>
<rect x="32.5" y="366.4" width="136" height="53.8" fill="none" stroke="#555" stroke-width="0.9"/>
<path d="M32.5 418.45H28.7M32.5 408.46H28.7M32.5 398.47H28.7M32.5 388.48H28.7M32.5 378.49H28.7M32.5 368.5H28.7M37.6 420.2V424M55.24 420.2V424M72.88 420.2V424M90.53 420.2V424M108.17 420.2V424M125.81 420.2V424M143.45 420.2V424M161.09 420.2V424" stroke="#555" stroke-width="0.9"/>
<text transform="translate(24.5 418.45) rotate(-90)" text-anchor="middle" font-family="Liberation Sans" font-size="6.1" fill="#222">0.0</text>
<text transform="translate(24.5 398.47) rotate(-90)" text-anchor="middle" font-family="Liberation Sans" font-size="6.1" fill="#222">0.4</text>
<text transform="translate(24.5 378.49) rotate(-90)" text-anchor="middle" font-family="Liberation Sans" font-size="6.1" fill="#222">0.8</text>
<text transform="translate(9.4 393.3) rotate(-90)" text-anchor="middle" font-family="Liberation Sans" font-size="6.1" fill="#222">Probability</text>
<text x="37.6" y="433.6" text-anchor="middle" font-family="Liberation Sans" font-size="6.2" fill="#222">0</text>
<text x="55.24" y="433.6" text-anchor="middle" font-family="Liberation Sans" font-size="6.2" fill="#222">20</text>
<text x="72.88" y="433.6" text-anchor="middle" font-family="Liberation Sans" font-size="6.2" fill="#222">40</text>
<text x="90.53" y="433.6" text-anchor="middle" font-family="Liberation Sans" font-size="6.2" fill="#222">60</text>
<text x="108.17" y="433.6" text-anchor="middle" font-family="Liberation Sans" font-size="6.2" fill="#222">80</text>
<text x="125.81" y="433.6" text-anchor="middle" font-family="Liberation Sans" font-size="6.2" fill="#222">100</text>
<text x="143.45" y="433.6" text-anchor="middle" font-family="Liberation Sans" font-size="6.2" fill="#222">120</text>
<text x="161.09" y="433.6" text-anchor="middle" font-family="Liberation Sans" font-size="6.2" fill="#222">140</text>
<text x="100.5" y="448.2" text-anchor="middle" font-family="Liberation Sans" font-size="6.2" fill="#222">Months</text>
<text x="34.5" y="406.8" text-anchor="start" font-family="Liberation Serif" font-size="7.5" fill="#222">HR=1.58 [1.04 - 2.42]</text>
<text x="34.5" y="416.7" text-anchor="start" font-family="Liberation Serif" font-size="7.8" fill="#222"><tspan font-style="italic">cox p</tspan>=0.033902</text>
<text x="193.2" y="352" font-family="Liberation Serif" font-size="11.5">K</text>
<text x="234.2" y="351.3" font-family="Liberation Serif" font-size="8">Colorectal cancer,GSE17536,DFS</text>
<path d="M313.6 354H316.4" stroke="#f03a3a" stroke-width="0.9"/>
<path d="M313.6 359.7H316.4" stroke="#3262b2" stroke-width="0.9"/>
<text x="320.1" y="356.6" font-family="Liberation Sans" font-size="6">High</text>
<text x="336.4" y="356.6" font-family="Liberation Sans" font-size="6"><tspan font-style="italic">n</tspan>= 80</text>
<text x="320.1" y="362.3" font-family="Liberation Sans" font-size="6">Low</text>
<text x="336.4" y="362.3" font-family="Liberation Sans" font-size="6"><tspan font-style="italic">n</tspan>= 65</text>
<path d="M237 365.2H248.73V372.18H255.09V376H261.46V377.91H352" fill="none" stroke="#f29090" stroke-width="0.8" stroke-dasharray="0.9 1.3"/>
<path d="M237 368H242.36V372.18H251.27V381.09H255.09V384.27H261.46V388.73H302V395.73H309V401.46H352" fill="none" stroke="#f29090" stroke-width="0.8" stroke-dasharray="0.9 1.3"/>
<path d="M245 366.5H260.18V369H335.5" fill="none" stroke="#94acdb" stroke-width="0.8" stroke-dasharray="0.9 1.3"/>
<path d="M247 371.5H251.27V377.91H335.5" fill="none" stroke="#94acdb" stroke-width="0.8" stroke-dasharray="0.9 1.3"/>
<path d="M227.7 365.2H234.73V366.45H243.64V369H247.46V371.55H251.27V374.09H336.4" fill="none" stroke="#3262b2" stroke-width="1.15"/>
<path d="M249.36 369.85v3.4M251.27 372.39v3.4M252.55 372.39v3.4M253.82 372.39v3.4M255.73 372.39v3.4M258.91 372.39v3.4M265.91 372.39v3.4M267.18 372.39v3.4M270.36 372.39v3.4M272.27 372.39v3.4M274.18 372.39v3.4M275.46 372.39v3.4M278.64 372.39v3.4M284.36 372.39v3.4M288.18 372.39v3.4M289.27 372.39v3.4M291.18 372.39v3.4M293.73 372.39v3.4M296.91 372.39v3.4M298.82 372.39v3.4M300.73 372.39v3.4M302.64 372.39v3.4M303.27 372.39v3.4M305.82 372.39v3.4M314.73 372.39v3.4M324.91 372.39v3.4M325.55 372.39v3.4M331.27 372.39v3.4M332.55 372.39v3.4M335.73 372.39v3.4" stroke="#3262b2" stroke-width="1.5" stroke-linecap="round"/>
<path d="M227.7 365.2H232.18V366.45H237.27V368.36H242.36V369.64H246.18V371.55H248.73V374.73H251.27V377.91H255.09V380.45H258.91V383H261.46V384.65H302V388.09H309V392.55H353.5" fill="none" stroke="#f03a3a" stroke-width="1.15"/>
<path d="M228.36 363.5v3.4M230.91 363.5v3.4M233.45 364.75v3.4M236 364.75v3.4M239.82 366.66v3.4M241.09 366.66v3.4M242.36 367.94v3.4M244.27 367.94v3.4M244.91 367.94v3.4M247.46 369.85v3.4M250.64 373.03v3.4M251.27 376.21v3.4M252.55 376.21v3.4M253.82 376.21v3.4M255.73 378.75v3.4M257 378.75v3.4M258.91 381.3v3.4M260.18 381.3v3.4M261.46 382.95v3.4M266.55 382.95v3.4M269.09 382.95v3.4M271 382.95v3.4M272.91 382.95v3.4M274.18 382.95v3.4M276.73 382.95v3.4M279.27 382.95v3.4M281.82 382.95v3.4M284.36 382.95v3.4M286.91 382.95v3.4M300.09 382.95v3.4M301.36 382.95v3.4M306.45 386.39v3.4M310.27 390.85v3.4M319.18 390.85v3.4M321.09 390.85v3.4M323 390.85v3.4M352.91 390.85v3.4" stroke="#f03a3a" stroke-width="1.5" stroke-linecap="round"/>
<rect x="222.4" y="363.5" width="135.7" height="53.9" fill="none" stroke="#555" stroke-width="0.9"/>
<path d="M222.4 415.65H218.6M222.4 405.64H218.6M222.4 395.63H218.6M222.4 385.62H218.6M222.4 375.61H218.6M222.4 365.6H218.6M227.3 417.4V421.2M244.9 417.4V421.2M262.5 417.4V421.2M280.1 417.4V421.2M297.7 417.4V421.2M315.3 417.4V421.2M332.9 417.4V421.2M350.5 417.4V421.2" stroke="#555" stroke-width="0.9"/>
<text transform="translate(214.4 415.65) rotate(-90)" text-anchor="middle" font-family="Liberation Sans" font-size="6.1" fill="#222">0.0</text>
<text transform="translate(214.4 395.63) rotate(-90)" text-anchor="middle" font-family="Liberation Sans" font-size="6.1" fill="#222">0.4</text>
<text transform="translate(214.4 375.61) rotate(-90)" text-anchor="middle" font-family="Liberation Sans" font-size="6.1" fill="#222">0.8</text>
<text transform="translate(199.3 390.45) rotate(-90)" text-anchor="middle" font-family="Liberation Sans" font-size="6.1" fill="#222">Probability</text>
<text x="227.3" y="430.8" text-anchor="middle" font-family="Liberation Sans" font-size="6.2" fill="#222">0</text>
<text x="244.9" y="430.8" text-anchor="middle" font-family="Liberation Sans" font-size="6.2" fill="#222">20</text>
<text x="262.5" y="430.8" text-anchor="middle" font-family="Liberation Sans" font-size="6.2" fill="#222">40</text>
<text x="280.1" y="430.8" text-anchor="middle" font-family="Liberation Sans" font-size="6.2" fill="#222">60</text>
<text x="297.7" y="430.8" text-anchor="middle" font-family="Liberation Sans" font-size="6.2" fill="#222">80</text>
<text x="315.3" y="430.8" text-anchor="middle" font-family="Liberation Sans" font-size="6.2" fill="#222">100</text>
<text x="332.9" y="430.8" text-anchor="middle" font-family="Liberation Sans" font-size="6.2" fill="#222">120</text>
<text x="350.5" y="430.8" text-anchor="middle" font-family="Liberation Sans" font-size="6.2" fill="#222">140</text>
<text x="290.25" y="445.4" text-anchor="middle" font-family="Liberation Sans" font-size="6.2" fill="#222">Months</text>
<text x="224" y="404" text-anchor="start" font-family="Liberation Serif" font-size="7.5" fill="#222">HR=2.10 [1.11 - 3.95]</text>
<text x="224" y="413.2" text-anchor="start" font-family="Liberation Serif" font-size="7.8" fill="#222"><tspan font-style="italic">cox p</tspan>=0.021752</text>
<text x="379.8" y="352" font-family="Liberation Serif" font-size="11.5">L</text>
<text x="420.7" y="351.3" font-family="Liberation Serif" font-size="8">Ovarian cancer,GSE26712,DFS</text>
<path d="M496.9 354H499.7" stroke="#f03a3a" stroke-width="0.9"/>
<path d="M496.9 359.7H499.7" stroke="#3262b2" stroke-width="0.9"/>
<text x="503.4" y="356.6" font-family="Liberation Sans" font-size="6">High</text>
<text x="519.7" y="356.6" font-family="Liberation Sans" font-size="6"><tspan>n</tspan>= 19</text>
<text x="503.4" y="362.3" font-family="Liberation Sans" font-size="6">Low</text>
<text x="519.7" y="362.3" font-family="Liberation Sans" font-size="6"><tspan>n</tspan>= 166</text>
<path d="M411.4 365.6H420.27V369.64H425.36V373.45H430.46V378.55H436.82V383.64H443.18V384.91H447V390.64H455.9" fill="none" stroke="#f29090" stroke-width="0.8" stroke-dasharray="0.9 1.3"/>
<path d="M411.4 369.5H417.73V384.91H424.09V395.09H430.46V402.73H436.82V407.82H447V412.91H455.9" fill="none" stroke="#f29090" stroke-width="0.8" stroke-dasharray="0.9 1.3"/>
<path d="M414 365.6H420.27V370.27H430.46V376.64H439.36V383.64H448.27V390H459.73V395.09H471V398.91H483.73V404H496.46V406.55H509.18V407.82H535" fill="none" stroke="#94acdb" stroke-width="0.8" stroke-dasharray="0.9 1.3"/>
<path d="M414 368H420.27V373.45H430.46V380.45H439.36V388.73H448.27V394.46H459.73V400.18H471V405.91H483.73V409.73H496.46V411.64H509.18V412.91H535" fill="none" stroke="#94acdb" stroke-width="0.8" stroke-dasharray="0.9 1.3"/>
<path d="M411.4 365.6H415.18V367.73H420.27V371.55H425.36V374.73H430.46V378.55H434.27V382.36H439.36V386.18H443.18V388.73H448.27V392.55H453.36V395.09H459.73V398.27H466.09V400.82H471V403.36H476.09V405.27H483.73V407.18H493.91V409.73H502.82V411H510.46V412.27H532.09V413.55H534.64V414.18H537.2" fill="none" stroke="#3262b2" stroke-width="1.15"/>
<path d="M431.73 376.85v3.4M434.27 380.66v3.4M436.82 380.66v3.4M439.36 384.48v3.4M440.64 384.48v3.4M450.82 390.85v3.4M453.36 393.39v3.4M455.27 393.39v3.4M461 396.57v3.4M464.82 396.57v3.4M468.64 399.12v3.4M473.55 401.66v3.4M478 403.57v3.4M485 405.48v3.4M503.46 409.3v3.4M517.46 410.57v3.4M518.73 410.57v3.4M531.46 410.57v3.4M535.27 412.48v3.4M536.55 412.48v3.4" stroke="#3262b2" stroke-width="1.5" stroke-linecap="round"/>
<path d="M411.4 365.6H412.64V368.36H413.91V371.55H415.82V374.73H417.73V377.91H420.27V381.09H422.82V384.27H425.36V387.46H427.91V390H430.46V392.55H434.27V396.36H436.82V400.18H447V407.82H455.91V412.27H455.9" fill="none" stroke="#f03a3a" stroke-width="1.15"/>
<path d="M431.09 390.85v3.4M437.46 398.48v3.4M455.91 410.57v3.4" stroke="#f03a3a" stroke-width="1.5" stroke-linecap="round"/>
<rect x="405.45" y="363.5" width="135.95" height="54.1" fill="none" stroke="#555" stroke-width="0.9"/>
<path d="M405.45 415.85H401.65M405.45 405.8H401.65M405.45 395.75H401.65M405.45 385.7H401.65M405.45 375.65H401.65M405.45 365.6H401.65M410.4 417.6V421.4M428.89 417.6V421.4M447.37 417.6V421.4M465.86 417.6V421.4M484.34 417.6V421.4M502.83 417.6V421.4M521.32 417.6V421.4M539.8 417.6V421.4" stroke="#555" stroke-width="0.9"/>
<text transform="translate(397.45 415.85) rotate(-90)" text-anchor="middle" font-family="Liberation Sans" font-size="6.1" fill="#222">0.0</text>
<text transform="translate(397.45 395.75) rotate(-90)" text-anchor="middle" font-family="Liberation Sans" font-size="6.1" fill="#222">0.4</text>
<text transform="translate(397.45 375.65) rotate(-90)" text-anchor="middle" font-family="Liberation Sans" font-size="6.1" fill="#222">0.8</text>
<text transform="translate(382.35 390.55) rotate(-90)" text-anchor="middle" font-family="Liberation Sans" font-size="6.1" fill="#222">Probability</text>
<text x="410.4" y="431" text-anchor="middle" font-family="Liberation Sans" font-size="6.2" fill="#222">0</text>
<text x="428.89" y="431" text-anchor="middle" font-family="Liberation Sans" font-size="6.2" fill="#222">2</text>
<text x="447.37" y="431" text-anchor="middle" font-family="Liberation Sans" font-size="6.2" fill="#222">4</text>
<text x="465.86" y="431" text-anchor="middle" font-family="Liberation Sans" font-size="6.2" fill="#222">6</text>
<text x="484.34" y="431" text-anchor="middle" font-family="Liberation Sans" font-size="6.2" fill="#222">8</text>
<text x="502.83" y="431" text-anchor="middle" font-family="Liberation Sans" font-size="6.2" fill="#222">10</text>
<text x="521.32" y="431" text-anchor="middle" font-family="Liberation Sans" font-size="6.2" fill="#222">12</text>
<text x="539.8" y="431" text-anchor="middle" font-family="Liberation Sans" font-size="6.2" fill="#222">14</text>
<text x="473.42" y="445.6" text-anchor="middle" font-family="Liberation Sans" font-size="6.2" fill="#222">Years</text>
<text x="472" y="371.9" text-anchor="start" font-family="Liberation Serif" font-size="7.5" fill="#222">HR=1.31 [1.00 - 1.70]</text>
<text x="472" y="381" text-anchor="start" font-family="Liberation Serif" font-size="7.8" fill="#222">cox <tspan font-style="italic">p</tspan>=0.045883</text>
</g>
</svg></body></html>
